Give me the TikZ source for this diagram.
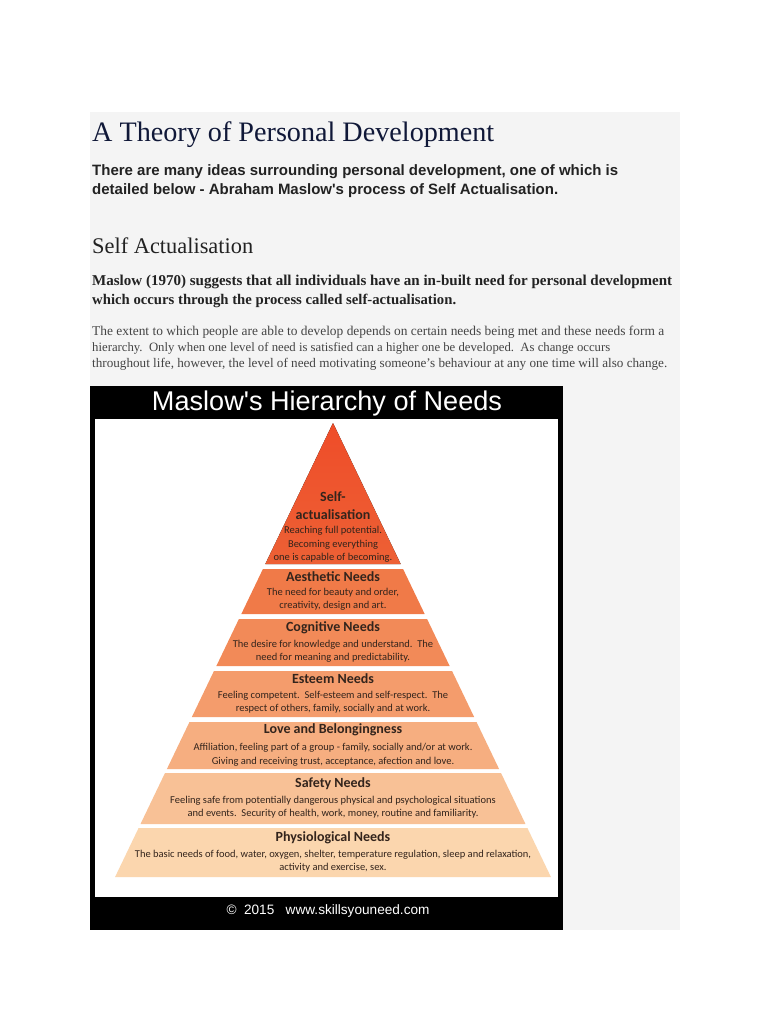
\documentclass[tikz,border=0pt]{standalone}
\usepackage{fontspec}
\setmainfont{Liberation Serif}
\newfontfamily\arialf{Liberation Sans}
\newfontfamily\calf{Carlito}
\usepackage{graphicx}
\definecolor{pagegray}{HTML}{F4F4F4}
\definecolor{navy}{HTML}{101838}
\definecolor{txtdark}{HTML}{222222}
\definecolor{txtgray}{HTML}{444444}
\definecolor{pyrtxt}{HTML}{33241C}
\definecolor{cA}{HTML}{EC5A30}
\definecolor{cB}{HTML}{F07A48}
\definecolor{cC}{HTML}{F28A58}
\definecolor{cD}{HTML}{F49C6C}
\definecolor{cE}{HTML}{F6AE80}
\definecolor{cF}{HTML}{F8C196}
\definecolor{cG}{HTML}{FBD6AE}
\newcommand{\fitw}[2]{\resizebox{#1pt}{!}{#2}}
\newcommand{\pband}[3]{\fill[#3] ({333-(#1-423)*0.48},#1) -- ({333+(#1-423)*0.48},#1) -- ({333+(#2-423)*0.48},#2) -- ({333-(#2-423)*0.48},#2) -- cycle;}
\begin{document}
\begin{tikzpicture}[x=1pt,y=-1pt,
  lt/.style={anchor=west,inner sep=0pt},
  ph/.style={font=\calf\bfseries\fontsize{14}{16}\selectfont,text=pyrtxt,inner sep=0pt},
  pb/.style={font=\calf\fontsize{10.5}{12}\selectfont,text=pyrtxt,inner sep=0pt}]
\useasboundingbox (0,0) rectangle (768,1024);
\fill[white] (0,0) rectangle (768,1024);
\fill[pagegray] (90,112) rectangle (680,930);
\node[lt,text=navy] (title) at (92,135) {\fitw{402}{\fontsize{28}{30}\selectfont A Theory of Personal Development}};
\node[lt,text=txtdark] (i1) at (92,172) {\fitw{526}{\arialf\bfseries\fontsize{14.5}{16}\selectfont There are many ideas surrounding personal development, one of which is}};
\node[lt,text=txtdark] (i2) at (92,191) {\fitw{466}{\arialf\bfseries\fontsize{14.5}{16}\selectfont detailed below - Abraham Maslow's process of Self Actualisation.}};
\node[lt,text=txtdark] (sa) at (92,246) {\fitw{161}{\fontsize{21}{24}\selectfont Self Actualisation}};
\node[lt,text=txtdark] (m1) at (92,282) {\fitw{580}{\bfseries\fontsize{14}{16}\selectfont Maslow (1970) suggests that all individuals have an in-built need for personal development}};
\node[lt,text=txtdark] (m2) at (92,301) {\fitw{364}{\bfseries\fontsize{14}{16}\selectfont which occurs through the process called self-actualisation.}};
\node[lt,text=txtgray] (p1) at (92,332) {\fitw{572}{\fontsize{12.5}{14}\selectfont The extent to which people are able to develop depends on certain needs being met and these needs form a}};
\node[lt,text=txtgray] (p2) at (92,348) {\fitw{518}{\fontsize{12.5}{14}\selectfont hierarchy.\ \ Only when one level of need is satisfied can a higher one be developed.\ \ As change occurs}};
\node[lt,text=txtgray] (p3) at (92,364) {\fitw{575}{\fontsize{12.5}{14}\selectfont throughout life, however, the level of need motivating someone's behaviour at any one time will also change.}};
% image frame
\fill[black] (90,386) rectangle (563,930);
\fill[white] (95,419) rectangle (558,897);
\node[text=white,inner sep=0pt] (hdr) at (327,403) {\fitw{350}{\arialf\fontsize{26}{28}\selectfont Maslow's Hierarchy of Needs}};
\node[text=white,inner sep=0pt] (ftr) at (328,911) {\fitw{203}{\arialf\fontsize{13}{15}\selectfont \textcopyright\ \ 2015\ \ \ www.skillsyouneed.com}};
% pyramid
\fill[top color=cA!85!red,bottom color=cA!80!cB] (333,423) -- ({333+(564-423)*0.48},564) -- ({333-(564-423)*0.48},564) -- cycle;
\pband{569}{614}{cB}
\pband{619}{666}{cC}
\pband{671}{717}{cD}
\pband{722}{769}{cE}
\pband{773}{824}{cF}
\pband{828}{877}{cG}
\node[ph] (s1) at (333,497) {Self-};
\node[ph] (s2) at (333,515) {actualisation};
\node[pb] (s3) at (333,531) {Reaching full potential.};
\node[pb] (s4) at (333,545) {Becoming everything};
\node[pb] (s5) at (333,558) {one is capable of becoming.};
\node[ph] (a1) at (333,577) {Aesthetic Needs};
\node[pb] (a2) at (333,593) {The need for beauty and order,};
\node[pb] (a3) at (333,606) {creativity, design and art.};
\node[ph] (c1) at (333,628) {Cognitive Needs};
\node[pb] (c2) at (333,645) {The desire for knowledge and understand.\ \ The};
\node[pb] (c3) at (333,658) {need for meaning and predictability.};
\node[ph] (e1) at (333,679) {Esteem Needs};
\node[pb] (e2) at (333,696) {Feeling competent.\ \ Self-esteem and self-respect.\ \ The};
\node[pb] (e3) at (333,709) {respect of others, family, socially and at work.};
\node[ph] (l1) at (333,730) {Love and Belongingness};
\node[pb] (l2) at (333,748) {Affiliation, feeling part of a group - family, socially and/or at work.};
\node[pb] (l3) at (333,762) {Giving and receiving trust, acceptance, afection and love.};
\node[ph] (f1) at (333,784) {Safety Needs};
\node[pb] (f2) at (333,801) {Feeling safe from potentially dangerous physical and psychological situations};
\node[pb] (f3) at (333,814) {and events.\ \ Security of health, work, money, routine and familiarity.};
\node[ph] (g1) at (333,838) {Physiological Needs};
\node[pb] (g2) at (333,855) {The basic needs of food, water, oxygen, shelter, temperature regulation, sleep and relaxation,};
\node[pb] (g3) at (333,868) {activity and exercise, sex.};
\end{tikzpicture}
\end{document}
